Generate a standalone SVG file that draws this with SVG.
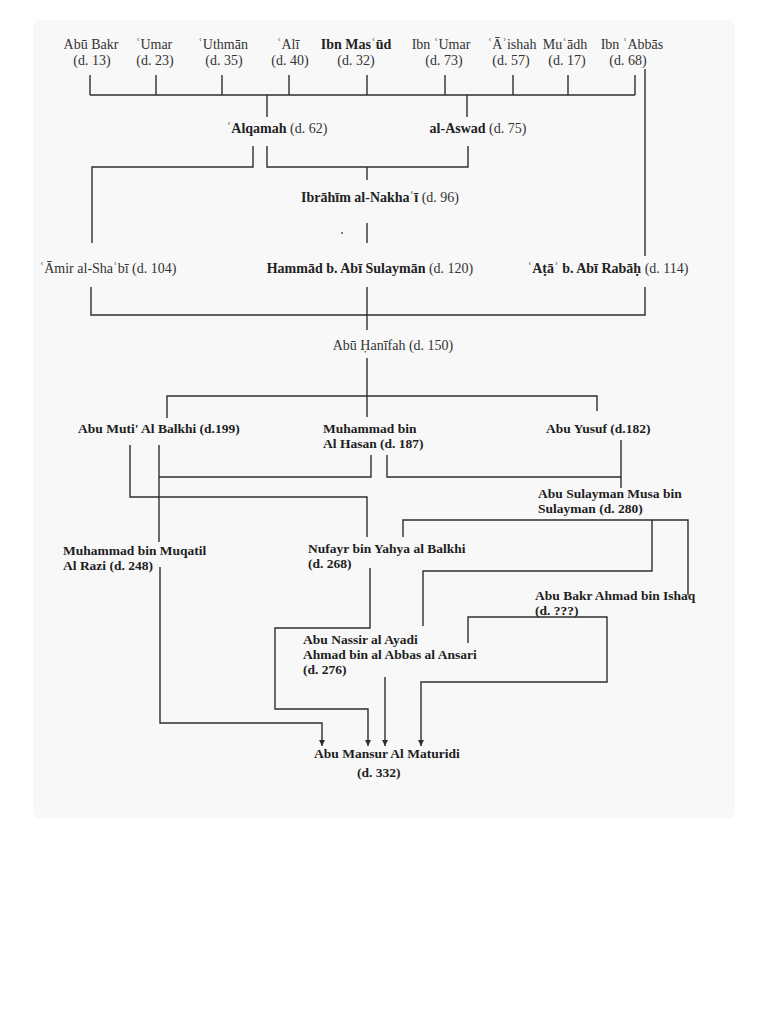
<svg xmlns="http://www.w3.org/2000/svg" width="768" height="1024" viewBox="0 0 768 1024">
<style>
.t{font-family:"Liberation Serif","Noto Sans","DejaVu Serif",serif;font-size:14px;fill:#333}
.b{font-weight:bold;fill:#222}
.m{text-anchor:middle}
.s{font-family:"Liberation Serif","DejaVu Serif",serif;font-size:13.5px;font-weight:bold;fill:#1e1e1e}
.c path,.c line{fill:none;stroke:#2e2e2e;stroke-width:1.4}
</style>
<defs>
<marker id="arr" markerWidth="6" markerHeight="6" refX="6" refY="3" orient="auto" markerUnits="userSpaceOnUse">
<path d="M0,0 L6,3 L0,6 Z" fill="#2e2e2e"/>
</marker>
</defs>
<rect x="0" y="0" width="768" height="1024" fill="#ffffff"/>
<rect x="33" y="20" width="702" height="798" rx="6" fill="#f8f8f8"/>

<g class="c" id="connectors">
<line x1="90" y1="95" x2="635" y2="95"/>
<line x1="90" y1="75" x2="90" y2="95"/>
<line x1="156" y1="75" x2="156" y2="95"/>
<line x1="222" y1="75" x2="222" y2="95"/>
<line x1="289" y1="75" x2="289" y2="95"/>
<line x1="367" y1="75" x2="367" y2="95"/>
<line x1="445" y1="75" x2="445" y2="95"/>
<line x1="513" y1="75" x2="513" y2="95"/>
<line x1="568" y1="75" x2="568" y2="95"/>
<line x1="635" y1="75" x2="635" y2="95"/>
<line x1="267" y1="95" x2="267" y2="117"/>
<line x1="467" y1="95" x2="467" y2="117"/>
<line x1="645" y1="69" x2="645" y2="256"/>
<path d="M253,146 V167 H92 V243"/>
<path d="M267,146 V167 H468 V146"/>
<line x1="367" y1="167" x2="367" y2="180"/>
<line x1="367" y1="223" x2="367" y2="243"/>
<path d="M91,287 V315 H645 V287"/>
<line x1="367" y1="287" x2="367" y2="330"/>
<line x1="367" y1="358" x2="367" y2="417"/>
<path d="M167,418 V396 H597 V411"/>
<line x1="159" y1="445" x2="159" y2="542"/>
<path d="M371,455 V477 H159"/>
<path d="M130,445 V497 H367 V537"/>
<path d="M387,455 V477 H621"/>
<line x1="621" y1="440" x2="621" y2="488"/>
<path d="M403,537 V520 H688 V595"/>
<path d="M652,520 V571 H423 V626"/>
<path d="M160,567 V723 H322 V746" marker-end="url(#arr)"/>
<path d="M370,568 V628 H275 V709 H368 V746" marker-end="url(#arr)"/>
<path d="M385,677 V746" marker-end="url(#arr)"/>
<path d="M468,643 V617 H607 V682 H421 V746" marker-end="url(#arr)"/>
<circle cx="342" cy="233" r="1" fill="#555" stroke="none"/>
</g>

<g id="abu-bakr"><text class="t m" x="91" y="49">Abū Bakr</text><text class="t m" x="92" y="65">(d. 13)</text></g>
<g id="umar"><text class="t m" x="154" y="49">ʿUmar</text><text class="t m" x="155" y="65">(d. 23)</text></g>
<g id="uthman"><text class="t m" x="223" y="49">ʿUthmān</text><text class="t m" x="224" y="65">(d. 35)</text></g>
<g id="ali"><text class="t m" x="288" y="49">ʿAlī</text><text class="t m" x="290" y="65">(d. 40)</text></g>
<g id="ibn-masud"><text class="t b m" x="356" y="49">Ibn Masʿūd</text><text class="t m" x="356" y="65">(d. 32)</text></g>
<g id="ibn-umar"><text class="t m" x="441" y="49">Ibn ʿUmar</text><text class="t m" x="444" y="65">(d. 73)</text></g>
<g id="aishah"><text class="t m" x="512" y="49">ʿĀʾishah</text><text class="t m" x="511" y="65">(d. 57)</text></g>
<g id="muadh"><text class="t m" x="565" y="49">Muʿādh</text><text class="t m" x="567" y="65">(d. 17)</text></g>
<g id="ibn-abbas"><text class="t m" x="632" y="49">Ibn ʿAbbās</text><text class="t m" x="628" y="65">(d. 68)</text></g>

<g id="alqamah"><text class="t m" x="277" y="133"><tspan class="b">ʿAlqamah</tspan> (d. 62)</text></g>
<g id="al-aswad"><text class="t m" x="478" y="133"><tspan class="b">al-Aswad</tspan> (d. 75)</text></g>
<g id="ibrahim"><text class="t m" x="380" y="202"><tspan class="b">Ibrāhīm al-Nakhaʿī</tspan> (d. 96)</text></g>
<g id="amir"><text class="t m" x="108" y="273">ʿĀmir al-Shaʿbī (d. 104)</text></g>
<g id="hammad"><text class="t m" x="370" y="273"><tspan class="b">Hammād b. Abī Sulaymān</tspan> (d. 120)</text></g>
<g id="ata"><text class="t m" x="608" y="273"><tspan class="b">ʿAṭāʾ b. Abī Rabāḥ</tspan> (d. 114)</text></g>
<g id="abu-hanifah"><text class="t m" x="393" y="350">Abū Ḥanīfah (d. 150)</text></g>

<g id="abu-muti"><text class="s" x="78" y="433">Abu Muti' Al Balkhi (d.199)</text></g>
<g id="muhammad-hasan"><text class="s" x="323" y="433">Muhammad bin</text><text class="s" x="323" y="448">Al Hasan (d. 187)</text></g>
<g id="abu-yusuf"><text class="s" x="546" y="433">Abu Yusuf (d.182)</text></g>
<g id="abu-sulayman"><text class="s" x="538" y="498">Abu Sulayman Musa bin</text><text class="s" x="538" y="513">Sulayman (d. 280)</text></g>
<g id="muqatil"><text class="s" x="63" y="555">Muhammad bin Muqatil</text><text class="s" x="63" y="570">Al Razi (d. 248)</text></g>
<g id="nufayr"><text class="s" x="308" y="553">Nufayr bin Yahya al Balkhi</text><text class="s" x="308" y="568">(d. 268)</text></g>
<g id="abu-bakr-ahmad"><text class="s" x="535" y="600">Abu Bakr Ahmad bin Ishaq</text><text class="s" x="535" y="615">(d. ???)</text></g>
<g id="abu-nassir"><text class="s" x="303" y="644">Abu Nassir al Ayadi</text><text class="s" x="303" y="659">Ahmad bin al Abbas al Ansari</text><text class="s" x="303" y="674">(d. 276)</text></g>
<g id="maturidi"><text class="s" x="314" y="758">Abu Mansur Al Maturidi</text><text class="s" x="357" y="777">(d. 332)</text></g>
</svg>
